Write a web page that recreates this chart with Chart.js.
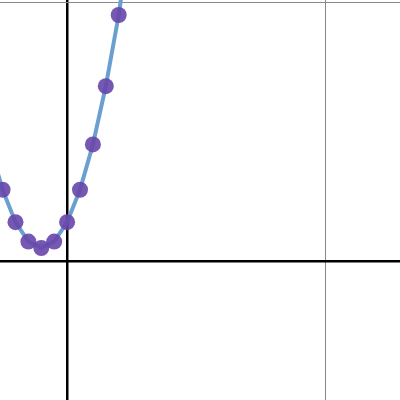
<!DOCTYPE html>
<html>
<head>
<script src="https://cdn.jsdelivr.net/npm/chart.js@4/dist/chart.umd.min.js"></script>
<style>html,body{margin:0;padding:0;background:#fff}#c{display:block}</style>
</head>
<body>
<div style="width:400px;height:400px"><canvas id="c"></canvas></div>
<script>
// Sample points of the curve
const xValues = [-0.3, -0.25, -0.2, -0.15, -0.1, -0.05, 0, 0.05, 0.1, 0.15, 0.2, 0.25];
const yValues = [0.45, 0.275, 0.15, 0.075, 0.05, 0.075, 0.15, 0.275, 0.45, 0.675, 0.95, 1.3];

// Visible window
const xRange = [-0.26, 1.29];
const yRange = [-0.537, 1.008];

const points = xValues.map((x, i) => ({ x: x, y: yValues[i] }));

/** Axes at zero are thick black, other grid lines thin grey */
function gridColor(ctx) { return ctx.tick && ctx.tick.value === 0 ? '#000' : '#888'; }
function gridWidth(ctx) { return ctx.tick && ctx.tick.value === 0 ? 2.5 : 1; }

function axis(range) {
    return {
        type: 'linear',
        min: range[0],
        max: range[1],
        border: { display: false },
        grid: { color: gridColor, lineWidth: gridWidth, drawTicks: false },
        ticks: { display: false, stepSize: 1, includeBounds: false }
    };
}

new Chart(document.getElementById('c'), {
    type: 'scatter',
    data: {
        datasets: [{
            data: points,
            showLine: true,
            borderColor: '#6a9fcf',
            borderWidth: 4,
            pointRadius: 8,
            pointBackgroundColor: 'rgba(103,70,170,0.9)',
            pointBorderWidth: 0
        }]
    },
    options: {
        responsive: true,
        maintainAspectRatio: false,
        animation: false,
        layout: { padding: 0, autoPadding: false },
        plugins: { legend: { display: false }, tooltip: { enabled: false } },
        scales: { x: axis(xRange), y: axis(yRange) }
    }
});
</script>
</body>
</html>
